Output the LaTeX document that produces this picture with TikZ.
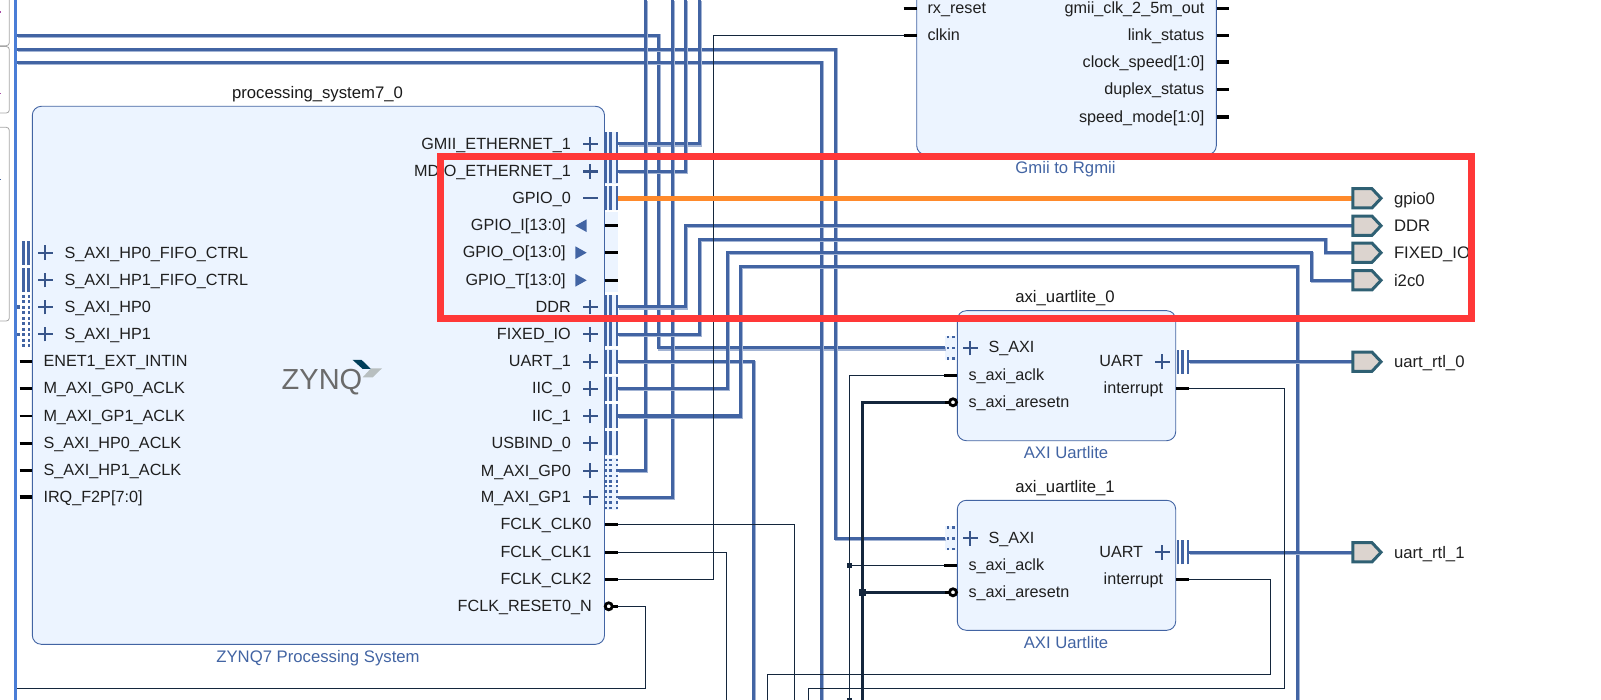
\documentclass[tikz,border=0pt]{standalone}
\usepackage{fontspec}
\setmainfont{Liberation Sans}
\definecolor{netblue}{HTML}{4264A3}
\definecolor{nethalo}{HTML}{A3B4D4}
\definecolor{wireblack}{HTML}{14263C}
\definecolor{blockfill}{HTML}{ECF4FF}
\definecolor{gpioorange}{HTML}{FF8A2B}
\definecolor{portline}{HTML}{2F6073}
\definecolor{portfill}{HTML}{DCD4CF}
\definecolor{markred}{HTML}{FF3838}
\definecolor{edgeblue}{HTML}{4A7DD6}
\begin{document}
\begin{tikzpicture}[x=1pt,y=1pt,
    every node/.style={inner sep=0pt,font=\fontsize{16.2}{18}\selectfont,text height=12pt,text depth=1.4pt},
    block/.style={draw=netblue,fill=blockfill,line width=0.9pt,rounded corners=9pt},
    title/.style={text=black!90,font=\fontsize{16.7}{18}\selectfont},
    footer/.style={text=netblue,font=\fontsize{16.7}{18}\selectfont},
    pinlabel/.style={text=black!88},
    extlabel/.style={text=black!88,font=\fontsize{16.7}{18}\selectfont},
    net/.style={netblue,line width=3pt,preaction={draw=nethalo,line width=3.4pt,transform canvas={shift={(0.9pt,-0.9pt)}}}},
    wire/.style={wireblack,line width=0.9pt},
    thickwire/.style={wireblack,line width=3pt},
    gpionet/.style={gpioorange,line width=5pt},
    stub/.style={black,line width=2.6pt},
    bigstub/.style={black,line width=4.2pt},
    buspin/.style={netblue,line width=2.3pt},
    axipin/.style={netblue,line width=2.3pt,dash pattern=on 2.6pt off 2.9pt},
    sym/.style={netblue!85!black,line width=2.2pt},
    tri/.style={fill=netblue},
    extport/.style={draw=portline,fill=portfill,line width=3pt},
    pinbg/.style={fill=blockfill},
    bubble/.style={draw=black,fill=white,line width=2.8pt}]
    \useasboundingbox (0,0) rectangle (1601,-700);

    % neighbouring blocks at the edge
    \draw [black!35,line width=0.8pt,rounded corners=3pt] (-6,-45.7) -- (9.3,-45.7) -- (9.3,0);
    \draw [black!35,line width=0.8pt,rounded corners=3pt] (-6,-46.5) -- (9.3,-46.5) -- (9.3,-113) -- (-6,-113);
    \draw [black!35,line width=0.8pt,rounded corners=3pt] (-6,-127.3) -- (9.3,-127.3) -- (9.3,-321) -- (-6,-321);
    \fill [violet!70] (0,-11) rectangle (1.2,-12.6);
    \fill [violet!70] (0,-92.8) rectangle (1.2,-94.4);
    \fill [netblue] (0,-179) rectangle (1.2,-180);
    \fill [edgeblue] (13.8,0) rectangle (16.9,-700);

    % blocks
    \node (ps7) [block,minimum width=572.2pt,minimum height=538pt] at (318.4,-375.3) {};
    \node (gmiiBlock) [block,minimum width=299.6pt,minimum height=200pt] at (1066.5,-54.7) {};
    \node (uart0) [block,minimum width=218.4pt,minimum height=130pt] at (1066.5,-375.7) {};
    \node (uart1) [block,minimum width=218.4pt,minimum height=130pt] at (1066.5,-565.3) {};

    \node (ps7title) [title] at (317.5,-93) {processing\_system7\_0};
    \node (ps7foot) [footer] at (318,-656.8) {ZYNQ7 Processing System};
    \node (gmiifoot) [footer] at (1065.5,-168.5) {Gmii to Rgmii};
    \node (uart0title) [title] at (1065,-296.8) {axi\_uartlite\_0};
    \node (uart0foot) [footer] at (1066,-453.3) {AXI Uartlite};
    \node (uart1title) [title] at (1065,-487.3) {axi\_uartlite\_1};
    \node (uart1foot) [footer] at (1066,-643.3) {AXI Uartlite};

    % zynq logo
    \node (zynqlogo) [text=black!58,font=\fontsize{29}{30}\selectfont,text height=21pt,text depth=0pt,anchor=south west] at (281.5,-390) {ZYNQ};
    \fill [fill=blue!30!cyan!35!black] (352.7,-360) -- (361.7,-360) -- (371,-369) -- (362.7,-369) -- cycle;
    \fill [fill=blue!10!cyan!12!black!28!white] (371,-368.3) -- (382,-368.3) -- (372.7,-377.3) -- (362.7,-377.3) -- cycle;

    % zynq pins on the right
    \fill [pinbg] (605,-212) rectangle (618,-292);
    \foreach \nm/\txt/\y in {gmii/GMII\_ETHERNET\_1/144,mdio/MDIO\_ETHERNET\_1/171.5,
        gpio/GPIO\_0/198.3,ddr/DDR/307,fixed/FIXED\_IO/334.3,uartone/UART\_1/361.7,
        iiczero/IIC\_0/388.7,iicone/IIC\_1/416,usb/USBIND\_0/443.3} {
        \fill [pinbg] (605,-\y-12.2) rectangle (618,-\y+12.2);
        \foreach \x in {605.9,610.5,616.8}
            \draw [buspin] (\x,-\y-12) -- (\x,-\y+12);
        \coordinate (ps\nm) at (618,-\y);
        \node (l\nm) [pinlabel,anchor=east] at (571,-\y) {\txt};
    }
    \foreach \nm/\txt/\y in {gpzero/M\_AXI\_GP0/470.7,gpone/M\_AXI\_GP1/497.3} {
        \fill [pinbg] (605,-\y-12.5) rectangle (618,-\y+12.5);
        \foreach \x in {605.9,610.5,616.8}
            \draw [axipin] (\x,-\y-12) -- (\x,-\y+12);
        \coordinate (ps\nm) at (618,-\y);
        \node (l\nm) [pinlabel,anchor=east] at (571,-\y) {\txt};
    }
    \foreach \y in {144,171.5,307,334.3,361.7,388.7,416,443.3,470.7,497.3}
        \draw [sym] (583,-\y) -- (597.7,-\y) (590.3,-\y-7.3) -- (590.3,-\y+7.3);
    \draw [sym] (583,-198.3) -- (597.7,-198.3);
    \foreach \nm/\txt/\y in {gpioi/GPIO\_I[13:0]/225.7,gpioo/GPIO\_O[13:0]/252.7,gpiot/GPIO\_T[13:0]/280.3} {
        \draw [stub] (605,-\y) -- (618,-\y);
        \node (l\nm) [pinlabel,anchor=east] at (565.7,-\y) {\txt};
    }
    \fill [tri] (575.3,-225.7) -- (586.7,-219.3) -- (586.7,-232.1) -- cycle;
    \fill [tri] (586.7,-252.7) -- (575.3,-246.3) -- (575.3,-259.1) -- cycle;
    \fill [tri] (586.7,-280.3) -- (575.3,-273.9) -- (575.3,-286.7) -- cycle;
    \foreach \nm/\txt/\y in {clkzero/FCLK\_CLK0/524.3,clkone/FCLK\_CLK1/552.3,clktwo/FCLK\_CLK2/579.3} {
        \draw [stub] (605,-\y) -- (618,-\y);
        \coordinate (ps\nm) at (618,-\y);
        \node (l\nm) [pinlabel,anchor=east] at (591.7,-\y) {\txt};
    }
    \coordinate (psrst) at (618,-606.3);
    \node (lrst) [pinlabel,anchor=east] at (592,-606.3) {FCLK\_RESET0\_N};
    \draw [stub] (612,-606.3) -- (psrst);
    \draw [bubble] (608.7,-606.3) circle (3.5);

    % zynq pins on the left
    \foreach \nm/\txt/\y in {fifozero/S\_AXI\_HP0\_FIFO\_CTRL/252.8,fifoone/S\_AXI\_HP1\_FIFO\_CTRL/280.2} {
        \foreach \x in {23.6,28.7}
            \draw [buspin,line width=2.7pt] (\x,-\y-12) -- (\x,-\y+12);
        \draw [sym] (38,-\y) -- (52.7,-\y) (45.3,-\y-7.3) -- (45.3,-\y+7.3);
        \node (l\nm) [pinlabel,anchor=west] at (64.3,-\y) {\txt};
    }
    \foreach \nm/\txt/\y in {hpzero/S\_AXI\_HP0/307,hpone/S\_AXI\_HP1/334.2} {
        \draw [sym] (38,-\y) -- (52.7,-\y) (45.3,-\y-7.3) -- (45.3,-\y+7.3);
        \fill [netblue] (17,-\y-1.6) rectangle (20,-\y+1.6);
        \node (l\nm) [pinlabel,anchor=west] at (64.3,-\y) {\txt};
    }
    \foreach \x in {23.6,28.7}
        \draw [axipin] (\x,-295) -- (\x,-347);
    \foreach \nm/\txt/\y in {enet/ENET1\_EXT\_INTIN/361.7,mgpzero/M\_AXI\_GP0\_ACLK/388.7,mgpone/M\_AXI\_GP1\_ACLK/416,
        shpzero/S\_AXI\_HP0\_ACLK/443.3,shpone/S\_AXI\_HP1\_ACLK/470.4} {
        \draw [stub] (19.7,-\y) -- (32,-\y);
        \node (l\nm) [pinlabel,anchor=west] at (43.3,-\y) {\txt};
    }
    \draw [bigstub] (19.7,-497.3) -- (32,-497.3);
    \node (lirq) [pinlabel,anchor=west] at (43.3,-497.3) {IRQ\_F2P[7:0]};

    % gmii to rgmii pins
    \foreach \nm/\txt/\y in {rxreset/rx\_reset/8.3,clkin/clkin/35.3} {
        \draw [stub] (903.7,-\y) -- (916.7,-\y);
        \coordinate (gm\nm) at (903.7,-\y);
        \node (l\nm) [pinlabel,anchor=west] at (927.3,-\y+0.5) {\txt};
    }
    \foreach \nm/\txt/\y/\lw in {clkout/gmii\_clk\_2\_5m\_out/8.3/2.6,link/link\_status/35.3/2.6,clkspeed/clock\_speed[1:0]/62.3/4.2,
        duplex/duplex\_status/89.3/2.6,speedmode/speed\_mode[1:0]/117/4.2} {
        \draw [black,line width=\lw pt] (1216.7,-\y) -- (1229.3,-\y);
        \node (l\nm) [pinlabel,anchor=east] at (1204.5,-\y) {\txt};
    }

    % uartlite pins
    \foreach \u/\rs/\rc/\rr/\rb/\ri in {0/348/375.3/402.3/361.7/388.3,1/538.3/565.3/592.3/552.3/579.3} {
        \fill [pinbg] (945,-\rs-12) rectangle (957,-\rs+12);
        \foreach \x in {948.3,953.5}
            \draw [buspin,dash pattern=on 2.4pt off 8.3pt,dash phase=0pt] (\x,-\rs-11.9) -- (\x,-\rs+12);
        \draw [sym] (963,-\rs) -- (977.7,-\rs) (970.3,-\rs-7.3) -- (970.3,-\rs+7.3);
        \coordinate (u\u saxi) at (945,-\rs);
        \node (l\u saxi) [pinlabel,anchor=west] at (988.3,-\rs+0.5) {S\_AXI};
        \draw [stub] (944.3,-\rc) -- (957.3,-\rc);
        \coordinate (u\u aclk) at (944.3,-\rc);
        \node (l\u aclk) [pinlabel,anchor=west] at (968.3,-\rc+0.5) {s\_axi\_aclk};
        \coordinate (u\u arst) at (945,-\rr);
        \draw [stub] (945,-\rr) -- (949.5,-\rr);
        \draw [bubble] (953,-\rr) circle (3.5);
        \node (l\u arst) [pinlabel,anchor=west] at (968.3,-\rr+0.5) {s\_axi\_aresetn};
        \foreach \x in {1178,1182.6,1187.8}
            \draw [buspin] (\x,-\rb-12) -- (\x,-\rb+12);
        \draw [sym] (1155,-\rb) -- (1169.7,-\rb) (1162.3,-\rb-7.3) -- (1162.3,-\rb+7.3);
        \coordinate (u\u uart) at (1189.3,-\rb);
        \node (l\u uart) [pinlabel,anchor=east] at (1143.3,-\rb+0.5) {UART};
        \draw [stub] (1176,-\ri) -- (1189.3,-\ri);
        \coordinate (u\u intr) at (1189.3,-\ri);
        \node (l\u intr) [pinlabel,anchor=east] at (1163.3,-\ri) {interrupt};
    }

    % ends and turns of the nets
    \coordinate (topA) at (17,-35.3);
    \coordinate (topB) at (17,-49.3);
    \coordinate (topC) at (17,-62.3);
    \coordinate (turnA) at (658.3,-348);
    \coordinate (turnB) at (835.7,-538.3);
    \coordinate (endC) at (821.7,-700);
    \coordinate (gmiiUp) at (699.3,0);
    \coordinate (mdioUp) at (685.3,0);
    \coordinate (gpzeroUp) at (645.7,0);
    \coordinate (gponeUp) at (672.3,0);
    \coordinate (ddrTurn) at (685.3,-225.7);
    \coordinate (fixedTurn) at (699.3,-239.3);
    \coordinate (fixedTurnB) at (1325,-252.7);
    \coordinate (uartDown) at (753.7,-700);
    \coordinate (iiczeroTurn) at (727,-252.7);
    \coordinate (iiczeroTurnB) at (1311.7,-280.3);
    \coordinate (iiconeTurn) at (740.7,-266.3);
    \coordinate (iiconeDown) at (1297.3,-700);

    \coordinate (clkzeroDown) at (794.7,-700);
    \coordinate (clkoneDown) at (726.3,-700);
    \coordinate (clktwoTurn) at (713.3,-35.3);
    \coordinate (rstTurn) at (645.7,-688.3);
    \coordinate (rstEnd) at (17,-688.3);
    \coordinate (aclkDown) at (849.3,-700);
    \coordinate (aclkJoin) at (849.3,-565.3);
    \coordinate (arstDown) at (862.3,-700);
    \coordinate (arstJoin) at (862.3,-592.3);
    \coordinate (intrzeroTurn) at (1284.3,-688.3);
    \coordinate (intrzeroDown) at (808.5,-700);
    \coordinate (introneTurn) at (1270.3,-674.3);
    \coordinate (introneDown) at (767.4,-700);

    % external ports
    \foreach \nm/\txt/\y in {gpiozero/gpio0/198.3,ddr/DDR/225.7,fixed/FIXED\_IO/252.7,iic/i2c0/280.3,rtlzero/uart\_rtl\_0/361.7,rtlone/uart\_rtl\_1/552.3} {
        \coordinate (ext\nm) at (1352,-\y);
    }

    % blue nets
    \draw [net] (topA) -| (turnA) -- (u0saxi);
    \draw [net] (topB) -| (turnB) -- (u1saxi);
    \draw [net] (topC) -| (endC);
    \draw [net] (psgmii) -| (gmiiUp);
    \draw [net] (psmdio) -| (mdioUp);
    \draw [net] (psgpzero) -| (gpzeroUp);
    \draw [net] (psgpone) -| (gponeUp);
    \draw [net] (psddr) -| (ddrTurn) -- (extddr);
    \draw [net] (psfixed) -| (fixedTurn) -| (fixedTurnB) -- (extfixed);
    \draw [net] (psuartone) -| (uartDown);
    \draw [net] (psiiczero) -| (iiczeroTurn) -| (iiczeroTurnB) -- (extiic);
    \draw [net] (psiicone) -| (iiconeTurn) -| (iiconeDown);
    \draw [net] (u0uart) -- (extrtlzero);
    \draw [net] (u1uart) -- (extrtlone);

    % black nets
    \draw [wire] (psclkzero) -| (clkzeroDown);
    \draw [wire] (psclkone) -| (clkoneDown);
    \draw [wire] (psclktwo) -| (clktwoTurn) -- (gmclkin);
    \draw [wire] (psrst) -| (rstTurn) -- (rstEnd);
    \draw [wire] (u0aclk) -| (aclkDown);
    \draw [wire] (u1aclk) -- (aclkJoin);
    \fill [wireblack] (847.1,-563.1) rectangle (851.5,-567.5);
    \fill [wireblack] (847.1,-698) rectangle (851.5,-702);
    \draw [thickwire] (u0arst) -| (arstDown);
    \draw [thickwire] (u1arst) -- (arstJoin);
    \fill [wireblack] (859,-589) rectangle (865.6,-595.6);
    \draw [wire] (u0intr) -| (intrzeroTurn) -| (intrzeroDown);
    \draw [wire] (u1intr) -| (introneTurn) -| (introneDown);

    \draw [gpionet] (psgpio) -- (extgpiozero);

    % port shapes go over the net ends
    \foreach \nm/\txt/\y in {gpiozero/gpio0/198.3,ddr/DDR/225.7,fixed/FIXED\_IO/252.7,iic/i2c0/280.3,rtlzero/uart\_rtl\_0/361.7,rtlone/uart\_rtl\_1/552.3} {
        \draw [extport] (1352.9,-\y-9.6) -- (1372,-\y-9.6) -- (1381,-\y) -- (1372,-\y+9.6) -- (1352.9,-\y+9.6) -- cycle;
        \node (x\nm) [extlabel,anchor=west] at (1393.8,-\y-1) {\txt};
    }

    % highlight box
    \draw [markred,line width=6.7pt] (440.3,-156.7) rectangle (1471.7,-318.3);
\end{tikzpicture}
\end{document}
